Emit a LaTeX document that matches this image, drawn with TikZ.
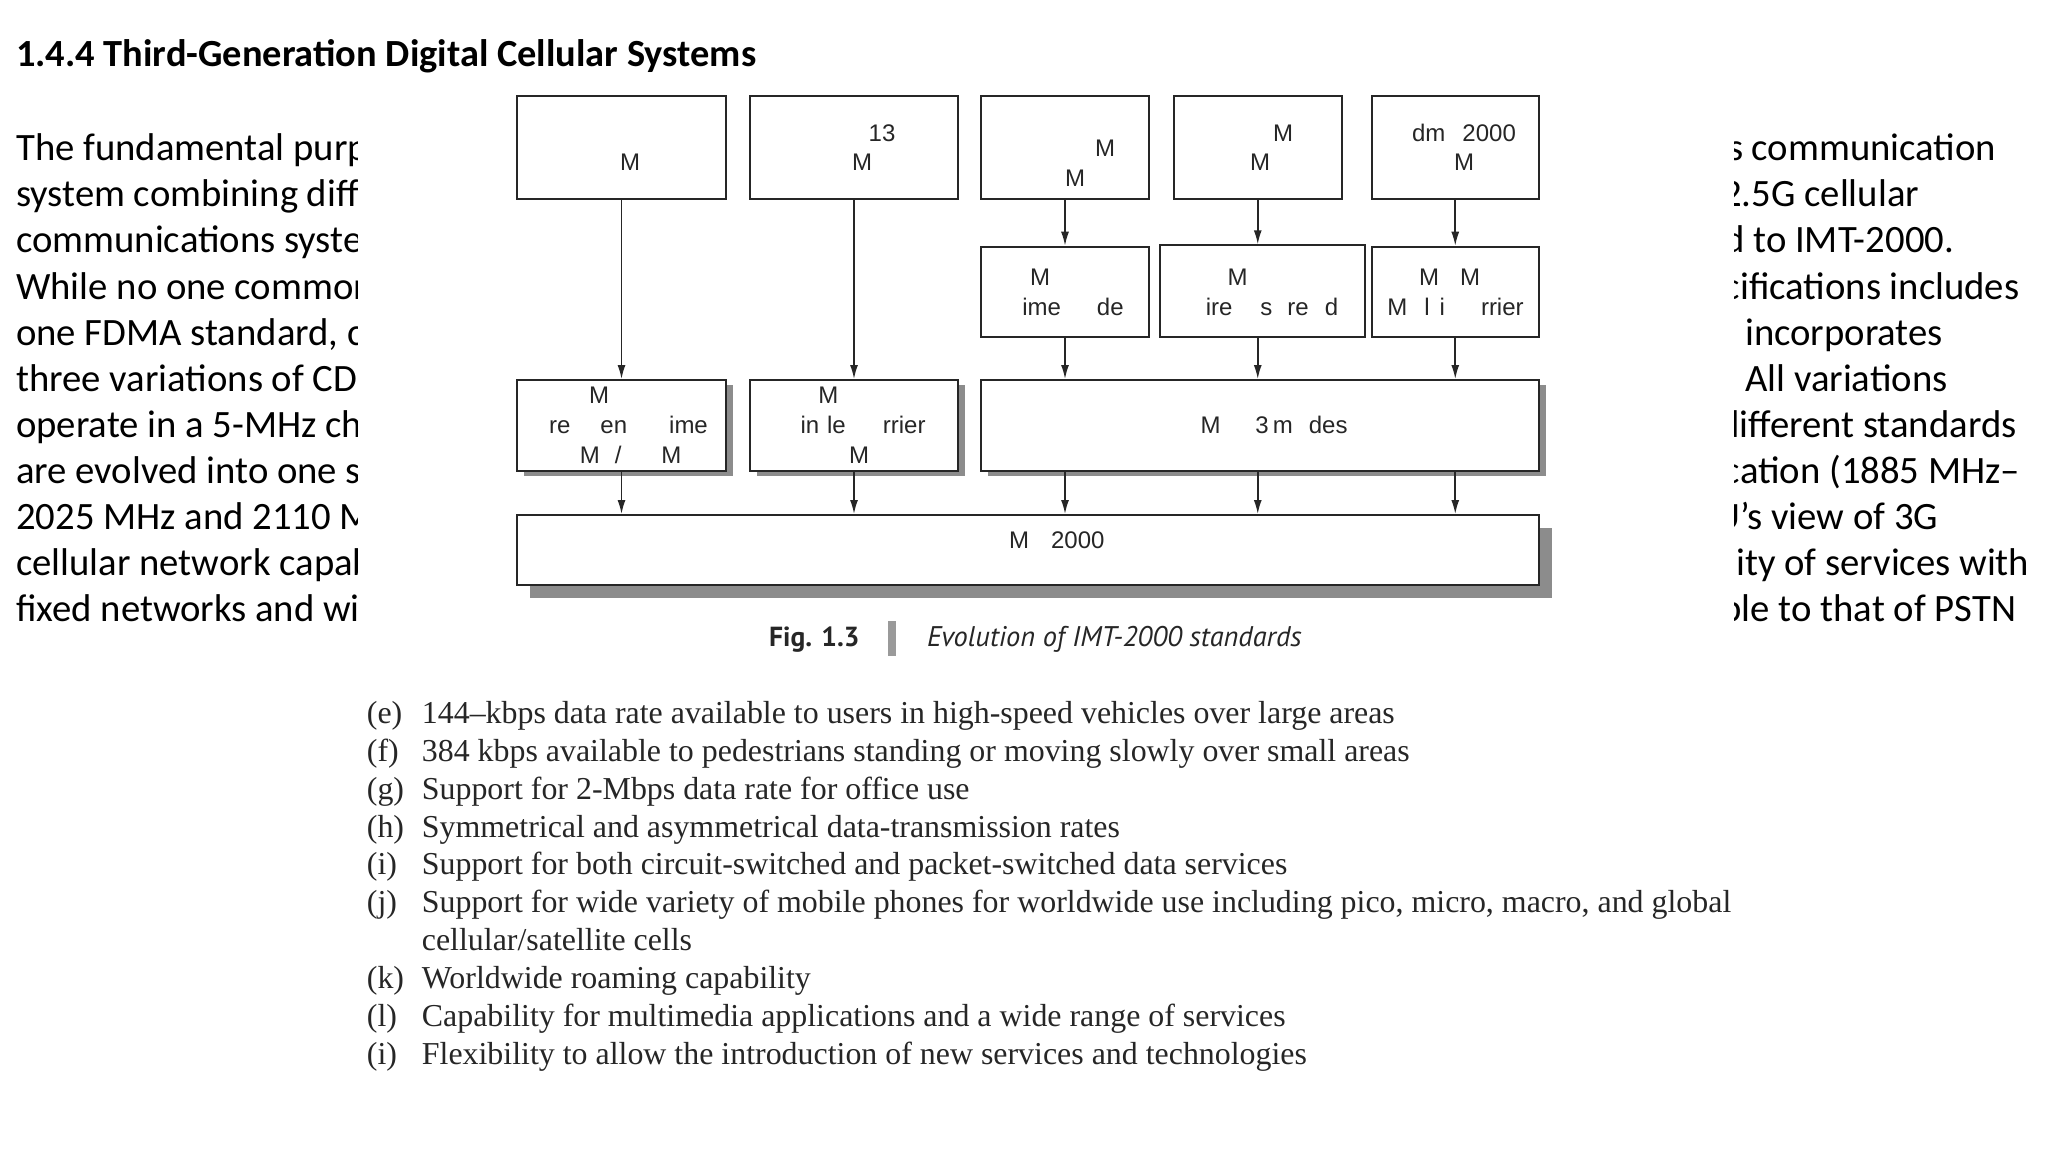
\documentclass[tikz,border=0pt]{standalone}
\usepackage{fontspec}
\usetikzlibrary{arrows.meta,shadows}
\setmainfont{Carlito}
\newfontfamily\figfont{Liberation Sans}
\newfontfamily\capfont{PT Sans}
\newfontfamily\listfont{Liberation Serif}
\definecolor{ink}{HTML}{262626}
\definecolor{shade}{HTML}{8C8C8C}
\definecolor{barg}{HTML}{9A9A9A}
\tikzset{
  stdbox/.style={draw=ink,line width=2pt,fill=white,inner sep=0pt},
  shbox/.style={stdbox,drop shadow={shadow xshift=7pt,shadow yshift=-5pt,fill=shade,opacity=1}},
  lbl/.style={anchor=base,inner sep=0pt,font=\figfont\fontsize{24}{24}\selectfont,text=ink},
  flow/.style={draw=ink,line width=1.6pt,-{Latex[length=14pt,width=8pt]}},
  body/.style={anchor=base west,inner sep=0pt,font=\fontsize{38.7}{46}\selectfont},
  item/.style={anchor=base west,inner sep=0pt,font=\listfont\fontsize{31.9}{32}\selectfont,text=ink},
}

\begin{document}
\begin{tikzpicture}[x=1pt,y=-1pt]
  % pixel grid, y down
  \useasboundingbox[fill=white] (0,0) rectangle (2048,1152);
  \node[anchor=base west,inner sep=0pt,font=\bfseries\fontsize{38.4}{38}\selectfont] (title) at (16,66.7)
    {1.4.4 Third-Generation Digital Cellular Systems};

  % slide text, covered by the figure in the middle
  \begin{scope}
    \clip (0,90) rectangle (357,680);
    \foreach \txt [count=\n from 0] in {The fundamental purp, system combining diffe,
      communications syste, While no one common, {one FDMA standard, c},
      three variations of CDM, operate in a 5-MHz ch, are evolved into one s,
      2025 MHz and 2110 M, cellular network capab, fixed networks and wir}
      \node[body] (left\n) at (16,{160.7+46.1*\n}) {\txt};
  \end{scope}
  \begin{scope}
    \clip (1734,90) rectangle (2048,680);
    \foreach \xx/\txt [count=\n from 0] in {1751.7/{\llap{s }communication},
      1741.7/{\llap{2}.5G cellular}, 1753.3/{\llap{d }to IMT-2000.},
      1740/{\llap{c}ifications includes}, 1745/{incorporates},
      1745/{All variations}, 1739.3/{\llap{d}ifferent standards},
      1740/{\llap{c}ation (1885 MHz–}, 1740/{\llap{U}’s view of 3G},
      1736/{ity of services with}, 1741.7/{\llap{b}le to that of PSTN}}
      \node[body] (right\n) at (\xx,{160.7+46.1*\n}) {\txt};
  \end{scope}

  % boxes
  \node[stdbox,minimum width=209pt,minimum height=103pt] (b1) at (621.5,147.5) {};
  \node[stdbox,minimum width=208pt,minimum height=103pt] (b2) at (854,147.5) {};
  \node[stdbox,minimum width=168pt,minimum height=103pt] (b3) at (1065,147.5) {};
  \node[stdbox,minimum width=167.5pt,minimum height=103pt] (b4) at (1257.75,147.5) {};
  \node[stdbox,minimum width=167.5pt,minimum height=103pt] (b5) at (1455.25,147.5) {};
  \node[stdbox,minimum width=168pt,minimum height=90pt] (c3) at (1065,291.7) {};
  \node[stdbox,minimum width=205pt,minimum height=91.4pt] (c4) at (1262.5,291) {};
  \node[stdbox,minimum width=167.5pt,minimum height=90pt] (c5) at (1455.25,291.7) {};
  \node[shbox,minimum width=209pt,minimum height=91pt] (d1) at (621.5,425.5) {};
  \node[shbox,minimum width=208pt,minimum height=91pt] (d2) at (854,425.5) {};
  \node[shbox,minimum width=558pt,minimum height=91pt] (d3) at (1260,425.5) {};
  \node[stdbox,minimum width=1022pt,minimum height=70pt,
    drop shadow={shadow xshift=13pt,shadow yshift=-13pt,fill=shade,opacity=1}] (e) at (1028,550) {};

  % arrows
  \draw[flow] (b1) -- (d1);
  \draw[flow] (b2) -- (d2);
  \foreach \u/\v in {b3/c3,b4/c4,b5/c5} {
    \draw[flow] (\u.south) -- (\u.south |- \v.north);
    \draw[flow] (\u.south |- \v.south) -- (\u.south |- d3.north);
    \draw[flow] (\u.south |- d3.south) -- (\u.south |- e.north);
  }
  \draw[flow] (d1) -- (d1 |- e.north);
  \draw[flow] (d2) -- (d2 |- e.north);

  % box labels
  \node[lbl] (b1t) at (630,170) {M};
  \node[lbl] (b2t1) at (882,141) {13};
  \node[lbl] (b2t2) at (862,170) {M};
  \node[lbl] (b3t1) at (1105,156) {M};
  \node[lbl] (b3t2) at (1075,186) {M};
  \node[lbl] (b4t1) at (1283,141) {M};
  \node[lbl] (b4t2) at (1260,170) {M};
  \node[lbl] (b5t1) at (1464,141) {dm\hspace{17pt}2000};
  \node[lbl] (b5t2) at (1464,170) {M};
  \node[lbl] (c3t1) at (1040,285) {M};
  \node[lbl] (c3t2) at (1073,315) {ime\hspace{36pt}de};
  \node[lbl] (c4t1) at (1237.5,285) {M};
  \node[lbl] (c4t2) at (1272,315) {ire\hspace{28pt}s\hspace{15pt}re\hspace{16pt}d};
  \node[lbl] (c5t1) at (1449.5,285) {M\hspace{21pt}M};
  \node[lbl] (c5t2) at (1455.5,315) {M\hspace{17pt}l\hspace{10pt}i\hspace{36pt}rrier};
  \node[lbl] (d1t1) at (599,403) {M};
  \node[lbl] (d1t2) at (628.5,433.7) {re\hspace{30pt}en\hspace{42pt}ime};
  \node[lbl] (d1t3) at (630.6,463) {M\hspace{15pt}/\hspace{40pt}M};
  \node[lbl] (d2t1) at (828.4,403) {M};
  \node[lbl] (d2t2) at (863,433.7) {in\hspace{8pt}le\hspace{37pt}rrier};
  \node[lbl] (d2t3) at (859.2,463) {M};
  \node[lbl] (d3t) at (1274,433.7) {M\hspace{35pt}3\hspace{4pt}m\hspace{16pt}des};
  \node[lbl] (et) at (1056.8,548) {M\hspace{22pt}2000};

  % caption
  \node[anchor=base west,inner sep=0pt,font=\capfont\bfseries\fontsize{27.6}{28}\selectfont,text=ink]
    (fig) at (768.9,646) {Fig. 1.3};
  \fill[barg] (888,621) rectangle (896,656);
  \node[anchor=base west,inner sep=0pt,font=\capfont\itshape\fontsize{28.4}{28}\selectfont,text=ink]
    (cap) at (926.8,646) {Evolution of IMT-2000 standards};

  % list below the figure
  \foreach \lab/\txt [count=\n from 0] in {
    (e)/{144–kbps data rate available to users in high-speed vehicles over large areas},
    (f)/{384 kbps available to pedestrians standing or moving slowly over small areas},
    (g)/{Support for 2-Mbps data rate for office use},
    (h)/{Symmetrical and asymmetrical data-transmission rates},
    (i)/{Support for both circuit-switched and packet-switched data services},
    (j)/{Support for wide variety of mobile phones for worldwide use including pico, micro, macro, and global},
    {}/{cellular/satellite cells},
    (k)/{Worldwide roaming capability},
    (l)/{Capability for multimedia applications and a wide range of services},
    (i)/{Flexibility to allow the introduction of new services and technologies}} {
    \node[item] (lab\n) at (366.7,{723.3+37.9*\n}) {\lab};
    \node[item] (itm\n) at (421.7,{723.3+37.9*\n}) {\txt};
  }
\end{tikzpicture}
\end{document}
